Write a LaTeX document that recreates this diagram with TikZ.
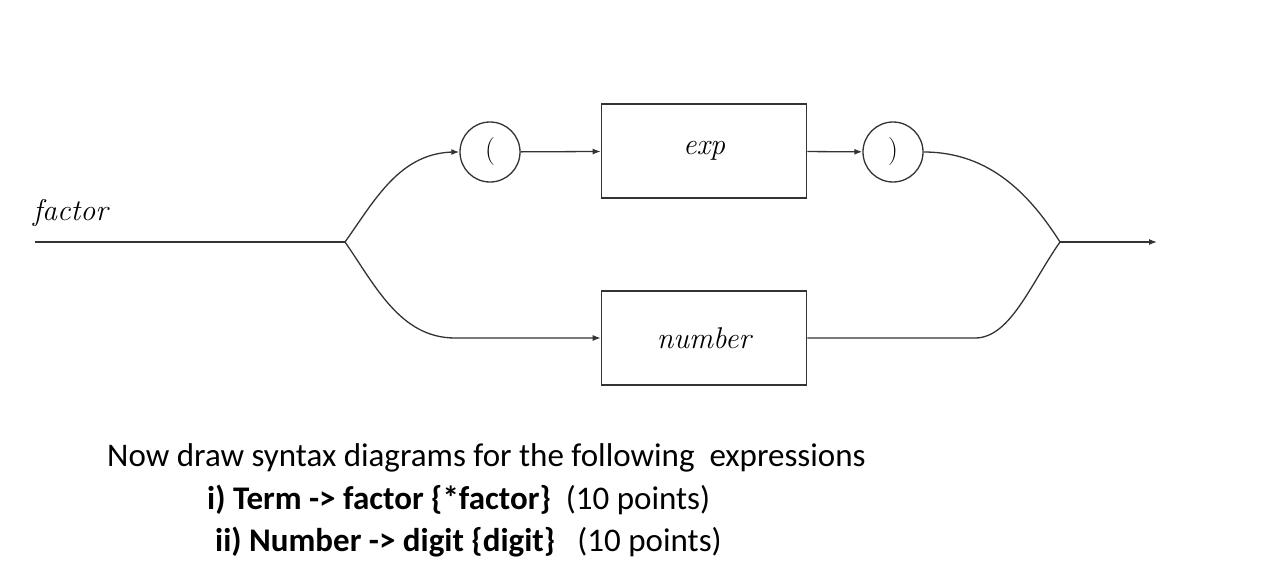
\documentclass[tikz,border=0pt]{standalone}
\usepackage{fontspec}
\newfontfamily\calfont{Carlito}
\usetikzlibrary{arrows.meta}
\begin{document}
\begin{tikzpicture}[x=1pt,y=-1pt,
  ln/.style={line width=1.3pt,draw=black!80},
  arr/.style={ln,-{Latex[length=8pt,width=6pt]}},
  box/.style={draw=black!80,line width=1.6pt,minimum width=205pt,minimum height=94pt,font=\fontsize{30}{30}\selectfont\itshape},
  circ/.style={draw=black!80,line width=1.3pt,circle,minimum size=60pt,inner sep=0pt,font=\fontsize{28}{28}\selectfont},
  txt/.style={font=\calfont\fontsize{33}{38}\selectfont,anchor=west,inner sep=0pt}]
\useasboundingbox (0,0) rectangle (1288,570);
\node[font=\fontsize{30}{30}\selectfont\itshape,anchor=west,inner sep=0pt] (f) at (33,213) {factor};
\coordinate (s) at (35,242);
\coordinate (b) at (345,242);
\coordinate (j) at (1060,242);
\coordinate (e) at (1157,242);
\node[circ] (c1) at (490,152) {(};
\node[box] (ex) at (704,151) {exp};
\node[circ] (c2) at (893,152) {)};
\node[box] (nu) at (704,338) {number};
\coordinate (u1) at (455,152);
\coordinate (l1) at (455,338);
\coordinate (l2) at (975,338);
\draw[ln] (s) -- (b);
\draw[arr] (b) .. controls (375,200) and (400,152) .. (u1) -- (c1);
\draw[arr] (b) .. controls (375,285) and (400,338) .. (l1) -- (nu);
\draw[arr] (c1) -- (ex);
\draw[arr] (ex) -- (c2);
\draw[ln] (c2) .. controls (990,152) and (1030,195) .. (j);
\draw[ln] (nu) -- (l2) .. controls (1010,338) and (1030,285) .. (j);
\draw[arr] (j) -- (e);
\node[txt] (t1) at (107,458) {Now draw syntax diagrams for the following\ \ expressions};
\node[txt] (t2) at (207,500) {\textbf{i) Term -> factor \{*factor\}}\ \ (10 points)};
\node[txt] (t3) at (215,542) {\textbf{ii) Number -> digit \{digit\}}\ \ \ (10 points)};
\end{tikzpicture}
\end{document}
